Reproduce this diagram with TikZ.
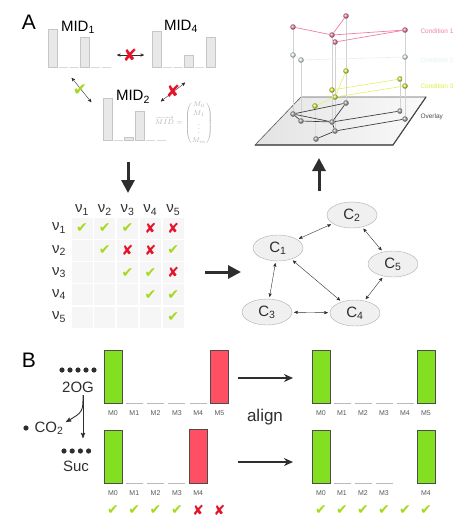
\documentclass[tikz,border=0pt]{standalone}
\usepackage{amsmath}
\usepackage{amssymb}
\usepackage{fontspec}
\setmainfont{Liberation Sans}
\newfontfamily\dvsans{DejaVu Sans}
\usetikzlibrary{arrows,arrows.meta,shapes}
\def\yes{{\dvsans\char"2714}}
\def\no{{\dvsans\char"2718}}
\def\fs#1{\fontsize{#1}{#1}\selectfont}
\definecolor{okgreen}{HTML}{A6D81C}
\definecolor{badred}{HTML}{E3142A}
\definecolor{bargreen}{HTML}{82E021}
\definecolor{barred}{HTML}{FF4F63}
\definecolor{condpink}{HTML}{EE7FA4}
\definecolor{condwhite}{HTML}{E2F1F1}
\definecolor{condyellow}{HTML}{DDEE3A}
\definecolor{darkarrow}{HTML}{2E2E2E}

\begin{document}
\begin{tikzpicture}[x=1pt,y=-1pt,>=stealth',
    panel/.style={font=\fs{21}},
    midlabel/.style={font=\fs{15}},
    midbar/.style={draw=gray!45,fill=gray!18,line width=0.7pt},
    link/.style={<->,thin,darkarrow,shorten >=1pt,shorten <=1pt},
    ok/.style={text=okgreen,font=\fs{14}\dvsans,inner sep=0pt},
    bad/.style={text=badred,font=\fs{14}\dvsans,inner sep=0pt},
    bigmark/.style={font=\fs{17}\dvsans},
    bigarrow/.style={-{Triangle[length=13pt,width=13pt]},line width=3pt,darkarrow},
    nu/.style={font=\fs{15},text=darkarrow},
    cell/.style={fill=gray!7,minimum size=21pt,inner sep=0pt},
    cnode/.style={ellipse,draw=gray!65,fill=gray!12,minimum width=50pt,minimum height=26pt,inner sep=0pt,font=\fs{15},text=darkarrow},
    ball/.style={circle,inner sep=0pt,minimum size=5.5pt,shading=ball,ball color=#1},
    vline/.style={draw=gray!35,line width=0.5pt},
    cond/.style={anchor=west,font=\fs{6.5}},
    metab/.style={font=\fs{15},text=darkarrow},
    flow/.style={->,line width=0.9pt,darkarrow},
    gbar/.style={draw=gray!60!black,fill=bargreen,line width=0.6pt},
    rbar/.style={draw=gray!60!black,fill=barred,line width=0.6pt},
    fbar/.style={draw=gray!55,line width=0.8pt},
    mlab/.style={font=\fs{7},text=gray!70!black},
    alignarrow/.style={-{Stealth[length=9pt,width=8pt]},line width=1.6pt,darkarrow}]
\useasboundingbox (0,0) rectangle (474,523);

% A: mass isotopomer distributions
\node[panel] (A) at (29,22) {A};
\node[midlabel] (mid1) at (78,27) {MID\textsubscript{1}};
\node[midlabel] (mid4) at (181,26) {MID\textsubscript{4}};
\node[midlabel] (mid2) at (133,97) {MID\textsubscript{2}};
\foreach \i/\h in {0/38,1/0,2/0,3/30,4/0,5/0} \draw[midbar] ({48+10.8*\i},67) rectangle ++(9,-\h);
\foreach \i/\h in {0/36,1/0,2/0,3/12,4/0,5/30} \draw[midbar] ({152+10.8*\i},67) rectangle ++(9,-\h);
\foreach \i/\h in {0/42,1/0,2/3,3/29,4/0,5/0} \draw[midbar] ({103+10.8*\i},140) rectangle ++(9,-\h);
\coordinate (l1) at (116,55);
\coordinate (l2) at (145,55);
\coordinate (l3) at (71,77);
\coordinate (l4) at (92,103);
\coordinate (l5) at (160,102);
\coordinate (l6) at (186,82);
\draw[link] (l1) -- (l2);
\draw[link] (l3) -- (l4);
\draw[link] (l5) -- (l6);
\node[bad,bigmark] (x14) at (130,55) {\no};
\node[ok,bigmark] (x12) at (80,90) {\yes};
\node[bad,bigmark] (x24) at (173,91) {\no};
\node[text=gray!60,font=\fs{7.5}] (vec) at (184,123) {$\overrightarrow{MID}=\begin{pmatrix}M_0\\[1pt]M_1\\[1pt]\vdots\\[1pt]M_m\end{pmatrix}$};

\coordinate (d1) at (128,162);
\coordinate (d2) at (128,193);
\draw[bigarrow] (d1) -- (d2);

% similarity matrix
\foreach \c in {1,...,5} \node[nu] (h\c) at ({82+22.8*(\c-1)},210) {ν\textsubscript{\c}};
\foreach \r in {1,...,5} \node[nu] (v\r) at (59,{228+22.3*(\r-1)}) {ν\textsubscript{\r}};
\foreach \r in {1,...,5} \foreach \c in {1,...,5} \node[cell] (m\r\c) at ({82+22.8*(\c-1)},{228+22.3*(\r-1)}) {};
\foreach \r/\c in {1/1,1/2,1/3,2/2,2/5,3/3,3/4,4/4,4/5,5/5} \node[ok] (k\r\c) at (m\r\c) {\yes};
\foreach \r/\c in {1/4,1/5,2/3,2/4,3/5} \node[bad] (k\r\c) at (m\r\c) {\no};

\coordinate (r1) at (205,272);
\coordinate (r2) at (241,272);
\draw[bigarrow] (r1) -- (r2);

% clusters
\node[cnode] (C1) at (278,248) {C\textsubscript{1}};
\node[cnode] (C2) at (352,215) {C\textsubscript{2}};
\node[cnode] (C5) at (393,264) {C\textsubscript{5}};
\node[cnode] (C3) at (267,312) {C\textsubscript{3}};
\node[cnode] (C4) at (355,313) {C\textsubscript{4}};
\path[link,shorten >=2pt,shorten <=2pt]
  (C1) edge (C2)
  (C2) edge (C5)
  (C5) edge (C4)
  (C4) edge (C3)
  (C3) edge (C1)
  (C1) edge (C4);

\coordinate (u1) at (319,191);
\coordinate (u2) at (319,158);
\draw[bigarrow] (u1) -- (u2);

% condition layers over the overlay plane
\shade[left color=gray!22,right color=gray!4,draw=gray!70!black,line width=0.6pt] (255,145) -- (301,97) -- (426,97) -- (393,145) -- cycle;
\draw[gray!55!black,line width=1.1pt] (255,145) -- (393,145) -- (426,97);
\node[ball=gray!70] (g1) at (293,114) {};
\node[ball=gray!70] (g2) at (301,121) {};
\node[ball=gray!70] (g3) at (332,122) {};
\node[ball=gray!70] (g4) at (346,103) {};
\node[ball=gray!70] (g5) at (335,131) {};
\node[ball=gray!70] (g6) at (316,139) {};
\node[ball=gray!70] (g7) at (400,111) {};
\node[ball=gray!70] (g8) at (405,119) {};
\node[ball=condyellow] (y3) at (332,90) {};
\node[ball=condyellow] (y4) at (346,71) {};
\node[ball=condyellow] (y5) at (335,97) {};
\node[ball=condyellow] (y6) at (315,106) {};
\node[ball=condyellow] (y7) at (400,79) {};
\node[ball=condyellow] (y8) at (405,86) {};
\node[ball=condwhite] (w1) at (293,55) {};
\node[ball=condwhite] (w2) at (301,60) {};
\node[ball=condwhite] (w8) at (405,57) {};
\node[ball=condpink] (p1) at (293,27) {};
\node[ball=condpink] (p3) at (332,35) {};
\node[ball=condpink] (p4) at (346,16) {};
\node[ball=condpink] (p5) at (335,42) {};
\node[ball=condpink] (p8) at (405,30) {};
\path[vline]
  (p1) edge (w1) (w1) edge (g1)
  (w2) edge (g2)
  (p3) edge (y3) (y3) edge (g3)
  (p5) edge (y5) (y5) edge (g5)
  (p4) edge (y4) (y4) edge (g4)
  (p8) edge (w8) (w8) edge (y8) (y8) edge (g8)
  (y7) edge (g7)
  (y6) edge (g6);
\path[draw=condwhite,line width=0.6pt]
  (w1) edge (w2)
  (w2) edge (w8);
\path[draw=condyellow!80,line width=0.6pt]
  (y6) edge (y5)
  (y5) edge (y4)
  (y3) edge (y7)
  (y5) edge (y8);
\path[draw=condpink,line width=0.7pt]
  (p1) edge (p3)
  (p3) edge (p4)
  (p3) edge (p8)
  (p5) edge (p8);
\path[draw=gray!50!black,line width=0.7pt]
  (g1) edge (g4)
  (g1) edge (g2)
  (g1) edge (g3)
  (g2) edge (g3)
  (g3) edge (g4)
  (g3) edge (g7)
  (g3) edge (g5)
  (g5) edge (g8)
  (g5) edge (g6);
\node[cond,text=condpink] (cond1) at (417,31) {Condition 1};
\node[cond,text=condwhite] (cond2) at (417,60) {Condition 2};
\node[cond,text=condyellow] (cond3) at (417,86) {Condition 3};
\node[cond,text=gray!60!black] (overlay) at (417,117) {Overlay};

% B: label alignment
\node[panel] (B) at (29,360) {B};
\foreach \i in {0,...,4} \fill[darkarrow] ({62+8*\i},370) circle (2.6);
\node[metab] (og) at (78,387) {2OG};
\foreach \i in {0,...,3} \fill[darkarrow] ({64+8.2*\i},451) circle (2.6);
\node[metab] (suc) at (76,466) {Suc};
\fill[darkarrow] (26,428) circle (2.6);
\node[metab,anchor=west] (co2) at (31,428) {CO\textsubscript{2}};
\coordinate (fork) at (83,395);
\coordinate (sucin) at (83,438);
\coordinate (co2in) at (66,422);
\draw[flow] (fork) -- (sucin);
\draw[flow] (fork) .. controls (83,412) .. (co2in);

\draw[gbar] (104,403) rectangle ++(18,-53);
\foreach \i in {1,...,4} \draw[fbar] ({104.5+21.3*\i},403) -- ++(17,0);
\draw[rbar] (210,403) rectangle ++(18,-53);
\foreach \i in {0,...,5} \node[mlab] (ta\i) at ({113+21.3*\i},413) {M\i};
\draw[gbar] (104,483) rectangle ++(18,-53);
\foreach \i in {1,...,3} \draw[fbar] ({104.5+21.3*\i},483) -- ++(17,0);
\draw[rbar] (189,483) rectangle ++(18,-54);
\foreach \i in {0,...,4} \node[mlab] (ba\i) at ({113+21.3*\i},493) {M\i};
\foreach \i in {0,...,3} \node[ok] (bk\i) at ({113+21.3*\i},510) {\yes};
\foreach \i in {4,5} \node[bad] (bk\i) at ({113+21.3*\i},510) {\no};

\coordinate (t1) at (238,378);
\coordinate (t2) at (293,378);
\coordinate (t3) at (238,462);
\coordinate (t4) at (293,462);
\draw[alignarrow] (t1) -- (t2);
\draw[alignarrow] (t3) -- (t4);
\node[font=\fs{17},text=darkarrow] (align) at (265,417) {align};

\draw[gbar] (312,403) rectangle ++(18,-53);
\foreach \i in {1,...,4} \draw[fbar] ({312.5+21*\i},403) -- ++(17,0);
\draw[gbar] (417,403) rectangle ++(18,-53);
\foreach \i in {0,...,5} \node[mlab] (tb\i) at ({321+21*\i},413) {M\i};
\draw[gbar] (312,483) rectangle ++(18,-53);
\foreach \i in {1,...,3} \draw[fbar] ({312.5+21*\i},483) -- ++(17,0);
\draw[gbar] (417,483) rectangle ++(18,-53);
\foreach \i in {0,...,3} \node[mlab] (bb\i) at ({321+21*\i},493) {M\i};
\node[mlab] (bb4) at (426,493) {M4};
\foreach \i in {0,...,5} \node[ok] (ck\i) at ({321+21*\i},510) {\yes};
\end{tikzpicture}
\end{document}
